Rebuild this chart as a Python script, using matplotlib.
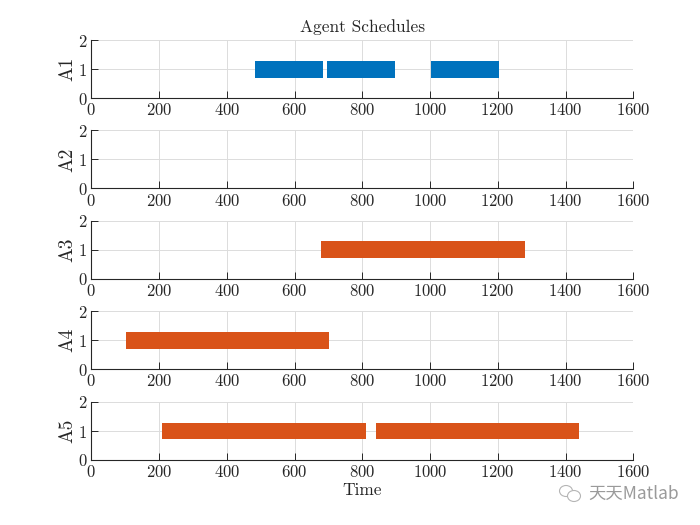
import matplotlib
matplotlib.use("Agg")
import matplotlib.pyplot as plt
from matplotlib.patches import Ellipse

plt.rcParams['font.family'] = ['cmr10', 'DejaVu Sans']
plt.rcParams['axes.formatter.use_mathtext'] = True
plt.rcParams['axes.unicode_minus'] = False

agents = ["A1", "A2", "A3", "A4", "A5"]
xticks = [0, 200, 400, 600, 800, 1000, 1200, 1400, 1600]
yticks = [0, 1, 2]
starts = [[483, 697, 1003], [], [678], [103], [210, 840]]
ends = [[684, 898, 1203], [], [1279], [703], [811, 1441]]
colors = ["#0072BD", "#0072BD", "#D95319", "#D95319", "#D95319"]
tops = [40.2, 130.4, 220.6, 311.2, 402]

W, H = 700, 525
fig = plt.figure(figsize=(7, 5.25), dpi=100)
for name, s, e, c, t in zip(agents, starts, ends, colors, tops):
    ax = fig.add_axes([91.3 / W, 1 - (t + 58) / H, 542 / W, 58 / H])
    ax.barh([1] * len(s), [b - a for a, b in zip(s, e)], left=s, height=0.58,
            color=c, linewidth=0, zorder=3)
    ax.set_xlim(0, 1600)
    ax.set_ylim(0, 2)
    ax.set_xticks(xticks)
    ax.set_yticks(yticks)
    ax.grid(True, color="#DCDCDC", linewidth=0.7, zorder=0)
    ax.set_axisbelow(True)
    for side in ("top", "right"):
        ax.spines[side].set_visible(False)
    for side in ("left", "bottom"):
        ax.spines[side].set_linewidth(0.8)
        ax.spines[side].set_color("#262626")
    ax.tick_params(direction="in", length=5, width=0.7, color="#262626",
                   labelcolor="#262626", labelsize=12, pad=3)
    ax.set_ylabel(name, fontsize=14, color="#262626", labelpad=1)
    if name == "A1":
        ax.set_title("Agent Schedules", fontsize=12.5, color="#262626", pad=6)
    if name == "A5":
        ax.set_xlabel("Time", fontsize=12.5, color="#262626", labelpad=2)

fig.text(588 / W, 1 - 494 / H, "天天Matlab", fontsize=12.5, color="#9a9a9a",
         family=["Noto Sans CJK SC", "DejaVu Sans"], va="center", ha="left")
fig.add_artist(Ellipse((566 / W, 1 - 491 / H), 13 / W, 11 / H, fill=False,
                       edgecolor="#b5b5b5", linewidth=0.8, transform=fig.transFigure))
fig.add_artist(Ellipse((574 / W, 1 - 496 / H), 13 / W, 11 / H, facecolor="white",
                       edgecolor="#b5b5b5", linewidth=0.8, transform=fig.transFigure))
fig.savefig("out.png", dpi=100)
